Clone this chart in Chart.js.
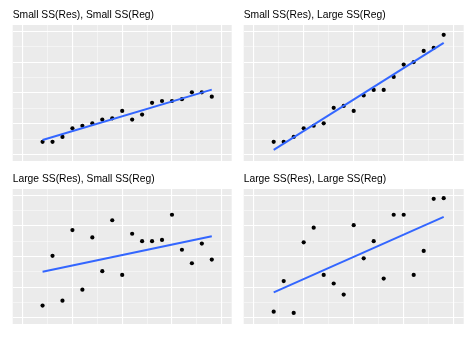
<!DOCTYPE html>
<html>
<head>
<meta charset="utf-8">
<script src="https://cdn.jsdelivr.net/npm/chart.js@4.4.0/dist/chart.umd.min.js"></script>
<style>
    html, body { margin: 0; padding: 0; background: #ffffff; }
    #wrap { position: relative; width: 474px; height: 338px; overflow: hidden; }
    .panel { position: absolute; width: 237px; height: 169px; }
</style>
</head>
<body>
<div id="wrap">
    <div class="panel" style="left:0px;top:0px"><canvas id="smallSmall" width="237" height="169"></canvas></div>
    <div class="panel" style="left:237px;top:0px"><canvas id="smallLarge" width="237" height="169"></canvas></div>
    <div class="panel" style="left:0px;top:169px"><canvas id="largeSmall" width="237" height="169"></canvas></div>
    <div class="panel" style="left:237px;top:169px"><canvas id="largeLarge" width="237" height="169"></canvas></div>
</div>
<script>
const xValues = [2, 3, 4, 5, 6, 7, 8, 9, 10, 11, 12, 13, 14, 15, 16, 17, 18, 19];

const ySmallResSmallReg = [2.1, 2.1, 2.9, 4.3, 4.7, 5.1, 5.7, 5.9, 7.1, 5.7, 6.5, 8.4, 8.7, 8.7, 9.0, 10.1, 10.1, 9.4];
const ySmallResLargeReg = [2.1, 2.1, 2.9, 4.3, 4.7, 5.1, 7.6, 7.9, 7.1, 9.6, 10.5, 10.5, 12.6, 14.6, 15.0, 16.8, 17.3, 19.4];
const yLargeResSmallReg = [2.0, 10.1, 2.8, 14.3, 4.6, 13.1, 7.6, 15.9, 7.0, 13.7, 12.5, 12.5, 12.7, 16.8, 11.1, 8.9, 12.1, 9.5];
const yLargeResLargeReg = [1.0, 6.0, 0.8, 12.3, 14.7, 7.0, 5.6, 3.8, 15.1, 9.7, 12.5, 6.4, 16.8, 16.8, 7.0, 10.9, 19.4, 19.5];

const panelTitles = [
    'Small SS(Res), Small SS(Reg)',
    'Small SS(Res), Large SS(Reg)',
    'Large SS(Res), Small SS(Reg)',
    'Large SS(Res), Large SS(Reg)'
];

// grid positions (major every 5, minor in between)
const gridTicks = [0, 2.5, 5, 7.5, 10, 12.5, 15, 17.5, 20];
const axisMin = -1;
const axisMax = 21;

// least squares line through the points, drawn from first to last x
function fitLine(xs, ys) {
    const n = xs.length;
    let mx = 0, my = 0;
    for (let k = 0; k < n; k++) { mx += xs[k]; my += ys[k]; }
    mx /= n; my /= n;
    let sxy = 0, sxx = 0;
    for (let k = 0; k < n; k++) {
        sxy += (xs[k] - mx) * (ys[k] - my);
        sxx += (xs[k] - mx) * (xs[k] - mx);
    }
    const slope = sxy / sxx;
    const icpt = my - slope * mx;
    return [
        { x: xs[0], y: icpt + slope * xs[0] },
        { x: xs[n - 1], y: icpt + slope * xs[n - 1] }
    ];
}

// grey panel like ggplot
const panelBackground = {
    id: 'panelBackground',
    beforeDraw(chart) {
        const { ctx, chartArea } = chart;
        ctx.save();
        ctx.fillStyle = '#EBEBEB';
        ctx.fillRect(chartArea.left, chartArea.top, chartArea.width, chartArea.height);
        ctx.restore();
    }
};

function gridAxis() {
    return {
        type: 'linear',
        min: axisMin,
        max: axisMax,
        afterBuildTicks: function (scale) {
            scale.ticks = gridTicks.map(v => ({ value: v }));
        },
        ticks: { display: false },
        border: { display: false },
        grid: {
            drawTicks: false,
            color: ctx => (ctx.tick && ctx.tick.value % 5 === 0) ? '#FFFFFF' : 'rgba(255,255,255,0.75)',
            lineWidth: ctx => (ctx.tick && ctx.tick.value % 5 === 0) ? 1.1 : 0.6
        }
    };
}

function makeConfig(ys, title, pad) {
    return {
        type: 'scatter',
        data: {
            datasets: [{
                type: 'line',
                data: fitLine(xValues, ys),
                borderColor: '#3366FF',
                borderWidth: 2,
                pointRadius: 0,
                fill: false
            }, {
                data: xValues.map((x, k) => ({ x: x, y: ys[k] })),
                backgroundColor: '#000000',
                borderWidth: 0,
                pointRadius: 2.1
            }]
        },
        options: {
            responsive: false,
            animation: false,
            devicePixelRatio: 1,
            layout: { padding: pad },
            scales: { x: gridAxis(), y: gridAxis() },
            plugins: {
                legend: { display: false },
                tooltip: { enabled: false },
                title: {
                    display: true,
                    text: title,
                    align: 'start',
                    color: '#000000',
                    font: { family: "'Liberation Sans', Arial, sans-serif", size: 10.3, weight: 'normal' },
                    padding: { top: pad.titleTop, bottom: 3.8 }
                }
            }
        },
        plugins: [panelBackground]
    };
}

new Chart(document.getElementById('smallSmall'),
    makeConfig(ySmallResSmallReg, panelTitles[0], { left: 12.7, right: 5.3, top: 0, bottom: 8, titleTop: 8.8 }));
new Chart(document.getElementById('smallLarge'),
    makeConfig(ySmallResLargeReg, panelTitles[1], { left: 6.7, right: 10.3, top: 0, bottom: 8, titleTop: 8.8 }));
new Chart(document.getElementById('largeSmall'),
    makeConfig(yLargeResSmallReg, panelTitles[2], { left: 12.7, right: 5.3, top: 0, bottom: 14, titleTop: 3.8 }));
new Chart(document.getElementById('largeLarge'),
    makeConfig(yLargeResLargeReg, panelTitles[3], { left: 6.7, right: 10.3, top: 0, bottom: 14, titleTop: 3.8 }));
</script>
</body>
</html>
